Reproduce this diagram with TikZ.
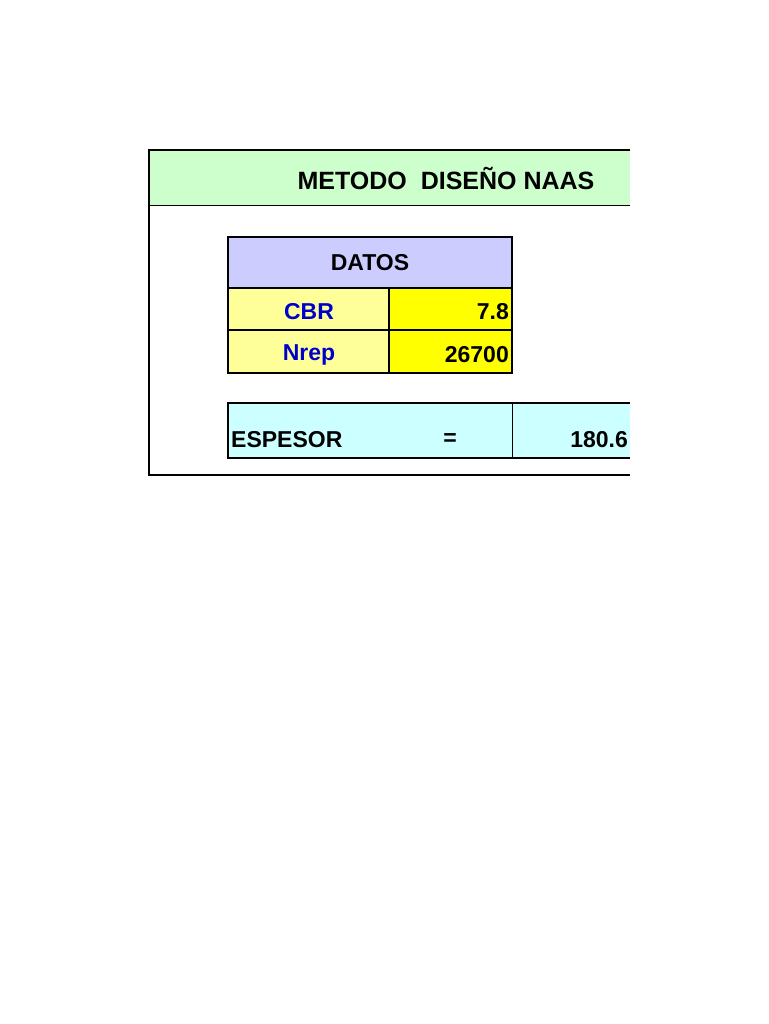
\documentclass[tikz,border=0pt]{standalone}
\usepackage{fontspec}
\setmainfont{Liberation Sans}
\definecolor{hdrgreen}{HTML}{CCFFCC}
\definecolor{hdrlav}{HTML}{CCCCFF}
\definecolor{lightyel}{HTML}{FFFF99}
\definecolor{fullyel}{HTML}{FFFF00}
\definecolor{lightcyan}{HTML}{CCFFFF}
\definecolor{labblue}{HTML}{0000CC}
\begin{document}
\begin{tikzpicture}[x=1pt,y=-1pt]
	\tikzstyle{cell}=[draw=black,line width=1.2pt]
	\tikzstyle{txt}=[font=\bfseries\fontsize{23}{23}\selectfont,inner sep=0pt]
	\useasboundingbox (0,0) rectangle (768,1024);
	% header band
	\fill[hdrgreen] (149,150) rectangle (630,206);
	\draw[line width=1.2pt] (630,150) -- (149,150) -- (149,475) -- (630,475);
	\draw[line width=1pt] (149,206) -- (630,206);
	\node[txt,font=\bfseries\fontsize{25}{25}\selectfont] (title) at (446,178) {METODO\ \ DISEÑO NAAS};

	% datos table
	\fill[hdrlav] (228,237) rectangle (512,288);
	\fill[lightyel] (228,288) rectangle (389,373);
	\fill[fullyel] (389,288) rectangle (512,373);
	\draw[cell] (228,237) rectangle (512,373);
	\draw[cell] (228,288) -- (512,288);
	\draw[cell] (228,330) -- (512,330);
	\draw[cell] (389,288) -- (389,373);
	\node[txt] (datos) at (370,263) {DATOS};
	\node[txt,text=labblue] (cbr) at (309,312) {CBR};
	\node[txt,anchor=east] (cbrval) at (509,312) {7.8};
	\node[txt,text=labblue] (nrep) at (309,355) {Nrep};
	\node[txt,anchor=east] (nrepval) at (509,355) {26700};

	% result row
	\fill[lightcyan] (228,403) rectangle (630,458);
	\draw[cell] (630,403) -- (228,403) -- (228,458) -- (630,458);
	\draw[line width=0.6pt] (512,403) -- (512,458);
	\node[txt,anchor=west] (esp) at (231,440) {ESPESOR};
	\node[txt] (eq) at (450,440) {=};
	\node[txt,anchor=east] (espval) at (628,440) {180.6};
\end{tikzpicture}
\end{document}
